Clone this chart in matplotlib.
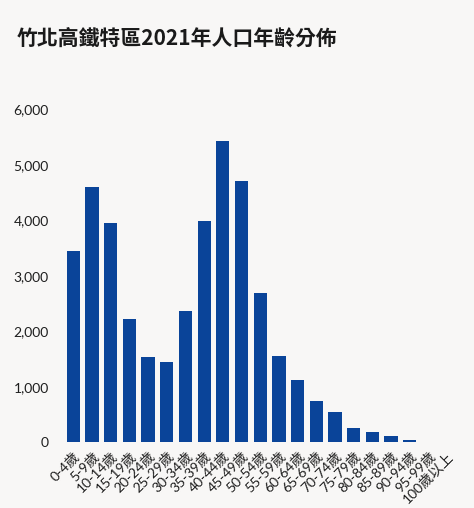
import numpy as np
import matplotlib.pyplot as plt

# age groups and population
age_groups = ['0-4歲', '5-9歲', '10-14歲', '15-19歲', '20-24歲', '25-29歲',
              '30-34歲', '35-39歲', '40-44歲', '45-49歲', '50-54歲', '55-59歲',
              '60-64歲', '65-69歲', '70-74歲', '75-79歲', '80-84歲', '85-89歲',
              '90-94歲', '95-99歲', '100歲以上']
population = [3440, 4600, 3950, 2220, 1540, 1450, 2370, 3980, 5420, 4700,
              2700, 1555, 1120, 750, 540, 255, 180, 110, 45, 8, 2]
y_ticks = [0, 1000, 2000, 3000, 4000, 5000, 6000]

title = '竹北高鐵特區2021年人口年齡分佈'

bg = '#f8f7f6'
bar_color = '#0a4499'
fonts = ['Lato', 'Noto Sans CJK TC', 'DejaVu Sans']

plt.rcParams['font.family'] = fonts

fig = plt.figure(figsize=(4.74, 5.08), dpi=100, facecolor=bg)
ax = fig.add_axes([0.135, 0.129, 0.828, 0.656], facecolor=bg)

x = np.arange(len(age_groups))
ax.bar(x, population, width=0.71, color=bar_color)

ax.set_xlim(-0.5, len(age_groups) - 0.5)
ax.set_ylim(0, 6000)
ax.set_yticks(y_ticks)
ax.set_yticklabels([f'{v:,}' for v in y_ticks], fontsize=10, color='#1e1e1e')
ax.set_xticks(x)
ax.set_xticklabels(age_groups, rotation=45, ha='right', va='top',
                   rotation_mode='anchor', fontsize=10, color='#1e1e1e',
                   family=['Lato', 'Noto Sans CJK TC'])
ax.tick_params(axis='y', length=0, pad=11)
ax.tick_params(axis='x', length=0, pad=5)
for s in ax.spines.values():
    s.set_visible(False)

fig.text(0.036, 0.925, title, fontsize=15, fontweight='bold', color='#1a1a1a',
         family=['Noto Sans CJK TC'], va='center', ha='left')

fig.savefig('out.png', dpi=100, facecolor=bg)
